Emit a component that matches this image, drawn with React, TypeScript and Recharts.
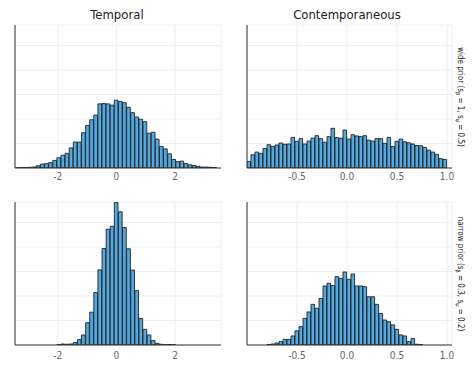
import { ComposedChart, Bar, XAxis, YAxis, CartesianGrid } from "recharts";

// histogram counts (one gridline = 100)
const temporalWide = [
  1, 2, 2, 3, 4, 9, 16, 18, 22, 31, 42, 52, 60, 82, 106, 106, 144, 174, 197, 216, 262, 263, 262, 257,
  277, 272, 267, 248, 226, 208, 199, 189, 142, 146, 118, 88, 78, 58, 35, 26, 28, 18, 13, 10, 7, 4, 4, 3, 2,
];
const temporalNarrow = [
  1, 4, 3, 4, 10, 22, 41, 91, 134, 214, 307, 394, 473, 485, 582, 544, 480, 393, 306, 222, 108, 64, 41,
  18, 7, 3, 2, 2, 1,
];
const contempWide = [
  27, 54, 65, 60, 80, 95, 88, 94, 102, 97, 98, 125, 109, 120, 98, 110, 122, 132, 120, 105, 128, 162, 124,
  122, 155, 118, 136, 131, 128, 132, 114, 110, 120, 120, 101, 125, 88, 109, 118, 107, 103, 98, 92, 91, 84,
  73, 65, 56, 38, 35,
];
const contempNarrow = [
  2, 4, 8, 14, 23, 23, 37, 58, 75, 109, 135, 166, 150, 190, 241, 252, 243, 279, 272, 298, 268, 290, 241,
  241, 238, 197, 197, 166, 129, 102, 95, 82, 64, 41, 37, 14, 27, 3, 2,
];

// bin layout: first bin centre and bin width
const temporalWideStart = -3.36;
const temporalNarrowStart = -1.96;
const temporalStep = 0.14;
const contempWideStart = -0.98;
const contempNarrowStart = -0.78;
const contempStep = 0.04;

const temporalTicks = [-2, 0, 2];
const contempTicks = [-0.5, 0, 0.5, 1];
const gridTicks = [0, 100, 200, 300, 400, 500];

const titles = ["Temporal", "Contemporaneous"];

const FONT = "'Liberation Sans Narrow', 'DejaVu Sans Condensed', 'Roboto Condensed', sans-serif";

const toRows = (counts: number[], start: number, step: number) =>
  counts.map((count, i) => ({ x: +(start + i * step).toFixed(3), count }));

// y ticks only feed the grid, nothing is drawn for them
const NoTick = () => <g />;

type PanelProps = {
  rows: { x: number; count: number }[];
  domain: [number, number];
  ticks: number[];
  step: number;
  left: number;
  top: number;
  plotTop: number;
  axisH: number;
  yW: number;
  right: number;
  gap: number;
  fmt: (v: number) => string;
};

function Panel({ rows, domain, ticks, step, left, top, plotTop, axisH, yW, right, gap, fmt }: PanelProps) {
  const w = 237;
  const h = 190;
  const plotW = w - yW - right;
  const barSize = (plotW * step) / (domain[1] - domain[0]);
  return (
    <div style={{ position: "absolute", left, top }}>
      <ComposedChart
        width={w}
        height={h}
        data={rows}
        margin={{ top: plotTop, right, bottom: 0, left: 0 }}
        barCategoryGap={0}
      >
        <CartesianGrid stroke="#eeeeee" />
        <XAxis
          dataKey="x"
          type="number"
          domain={domain}
          ticks={ticks}
          interval={0}
          allowDataOverflow
          height={axisH}
          axisLine={{ stroke: "#333" }}
          tickLine={false}
          tickSize={gap}
          tickMargin={1}
          tickFormatter={fmt}
          tick={{ fill: "#666", fontSize: 10, fontFamily: FONT }}
        />
        <YAxis
          type="number"
          domain={[0, 584]}
          ticks={gridTicks}
          interval={0}
          allowDataOverflow
          width={yW}
          tick={NoTick}
          tickLine={false}
          axisLine={{ stroke: "#333" }}
        />
        <Bar
          dataKey="count"
          fill="#53a9df"
          stroke="#1e2226"
          strokeWidth={0.9}
          barSize={barSize}
          isAnimationActive={false}
        />
      </ComposedChart>
    </div>
  );
}

function SideLabel({ x, y, name, sb, sp }: { x: number; y: number; name: string; sb: string; sp: string }) {
  return (
    <text
      x={x}
      y={y}
      transform={`rotate(90, ${x}, ${y})`}
      textAnchor="middle"
      fontSize={8}
      fontFamily={FONT}
      fill="#222"
    >
      {name} (s
      <tspan fontSize={5.5} dy={2}>β</tspan>
      <tspan dy={-2}> = {sb}, s</tspan>
      <tspan fontSize={5.5} dy={2}>ψ</tspan>
      <tspan dy={-2}> = {sp})</tspan>
    </text>
  );
}

export default function App() {
  const tFmt = (v: number) => String(v);
  const cFmt = (v: number) => v.toFixed(1);
  return (
    <div style={{ position: "absolute", left: 0, top: 0, width: 474, height: 379, background: "#fff" }}>
      <Panel
        rows={toRows(temporalWide, temporalWideStart, temporalStep)}
        domain={[-3.46, 3.57]}
        ticks={temporalTicks}
        step={temporalStep}
        left={0}
        top={0}
        plotTop={25}
        axisH={22}
        yW={15}
        right={16}
        gap={4}
        fmt={tFmt}
      />
      <Panel
        rows={toRows(contempWide, contempWideStart, contempStep)}
        domain={[-1.0, 1.05]}
        ticks={contempTicks}
        step={contempStep}
        left={237}
        top={0}
        plotTop={25}
        axisH={22}
        yW={10}
        right={22}
        gap={4}
        fmt={cFmt}
      />
      <Panel
        rows={toRows(temporalNarrow, temporalNarrowStart, temporalStep)}
        domain={[-3.46, 3.57]}
        ticks={temporalTicks}
        step={temporalStep}
        left={0}
        top={190}
        plotTop={12}
        axisH={35}
        yW={15}
        right={16}
        gap={6}
        fmt={tFmt}
      />
      <Panel
        rows={toRows(contempNarrow, contempNarrowStart, contempStep)}
        domain={[-1.0, 1.05]}
        ticks={contempTicks}
        step={contempStep}
        left={237}
        top={190}
        plotTop={12}
        axisH={35}
        yW={10}
        right={22}
        gap={6}
        fmt={cFmt}
      />
      <svg
        width={474}
        height={379}
        style={{ position: "absolute", left: 0, top: 0, pointerEvents: "none" }}
      >
        <text x={117} y={18.5} textAnchor="middle" fontSize={13} fontFamily={FONT} fill="#222">
          {titles[0]}
        </text>
        <text x={347} y={18.5} textAnchor="middle" fontSize={13} fontFamily={FONT} fill="#222">
          {titles[1]}
        </text>
        <SideLabel x={458} y={97} name="wide prior" sb="1" sp="0.5" />
        <SideLabel x={458} y={274} name="narrow prior" sb="0.3" sp="0.2" />
      </svg>
    </div>
  );
}
